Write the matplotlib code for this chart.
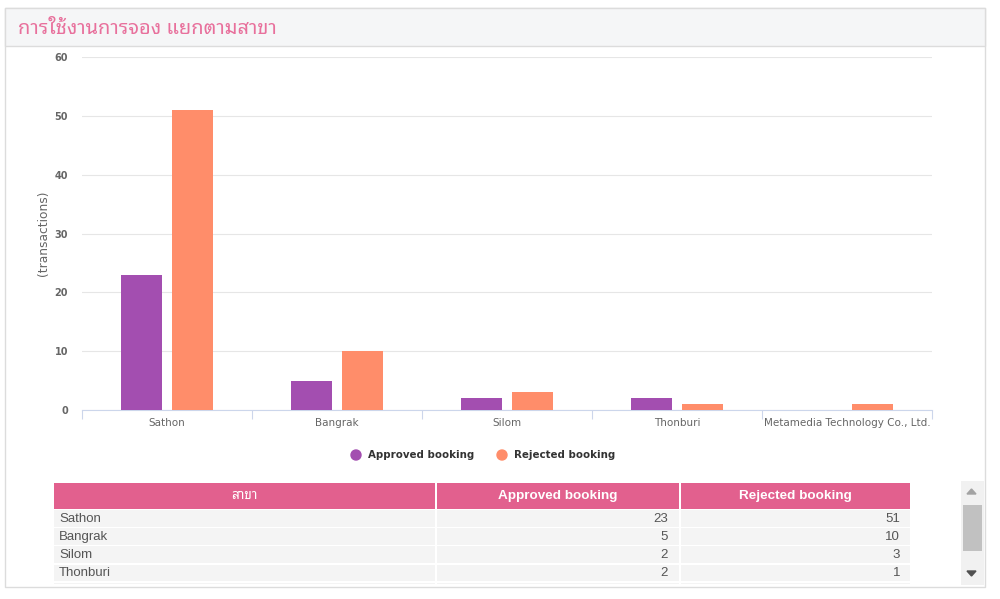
import matplotlib
matplotlib.use('Agg')
import matplotlib.pyplot as plt
from matplotlib import font_manager
from matplotlib.patches import Rectangle, Circle, Polygon

# data
branches = ['Sathon', 'Bangrak', 'Silom', 'Thonburi', 'Metamedia Technology Co., Ltd.']
approved = [23, 5, 2, 2, 0]
rejected = [51, 10, 3, 1, 1]
series_names = ['Approved booking', 'Rejected booking']
title = 'การใช้งานการจอง แยกตามสาขา'
table_head = ['สาขา', 'Approved booking', 'Rejected booking']
y_ticks = [0, 10, 20, 30, 40, 50, 60]

c_app = '#a34eb0'
c_rej = '#ff8d6a'
pink = '#e2608e'

# pick an installed Thai font (looped style looks closer to the original)
names = {f.name for f in font_manager.fontManager.ttflist}
thai = 'DejaVu Sans'
for cand in ['Noto Sans Thai Looped', 'Sarabun', 'Noto Sans Thai', 'Athiti', 'Bai Jamjuree']:
    if cand in names:
        thai = cand
        break

fig = plt.figure(figsize=(10, 5.99), dpi=100)

# overlay for the panel, legend, table
bg = fig.add_axes([0, 0, 1, 1], zorder=0)
bg.set_xlim(0, 1000)
bg.set_ylim(599, 0)
bg.axis('off')

bg.add_patch(Rectangle((5, 8), 980, 579, facecolor='white', edgecolor='#dcdcdc', lw=1))
bg.add_patch(Rectangle((5, 8), 980, 38, facecolor='#f5f6f7', edgecolor='#dcdcdc', lw=1))
bg.text(18, 29, title, family=[thai, 'DejaVu Sans'], fontsize=14.4, color='#e8709c',
        va='center', ha='left')

# bar chart
ax = fig.add_axes([0.082, (599 - 410) / 599, 0.85, 353 / 599], zorder=1)
ax.patch.set_alpha(0)
x = list(range(len(branches)))
ax.bar([i - 0.15 for i in x], approved, width=0.24, color=c_app, zorder=3)
ax.bar([i + 0.15 for i in x], rejected, width=0.24, color=c_rej, zorder=3)
ax.set_xlim(-0.5, len(branches) - 0.5)
ax.set_ylim(0, 60)
ax.set_yticks(y_ticks)
ax.grid(axis='y', color='#e6e6e6', lw=0.8, zorder=0)
for s in ['top', 'right', 'left']:
    ax.spines[s].set_visible(False)
ax.spines['bottom'].set_color('#ccd6eb')
ax.tick_params(axis='y', length=0, pad=10, labelsize=7, labelcolor='#666666')
ax.set_xticks([i - 0.5 for i in range(len(branches) + 1)])
ax.set_xticklabels([])
ax.tick_params(axis='x', which='major', length=6.5, color='#ccd6eb', direction='out')
ax.set_xticks(x, minor=True)
ax.set_xticklabels(branches, minor=True)
ax.tick_params(axis='x', which='minor', length=0, pad=6, labelsize=7.5, labelcolor='#666666')
for lb in ax.get_yticklabels():
    lb.set_fontweight('bold')
ax.set_ylabel('(transactions)', fontsize=8.8, color='#666666', labelpad=3)

# legend
for cx, col, name in [(356, c_app, series_names[0]), (502, c_rej, series_names[1])]:
    bg.add_patch(Circle((cx, 455), 5, color=col))
    bg.text(cx + 12, 455, name, fontsize=7.4, fontweight='bold', color='#333333',
            va='center', ha='left')

# table
clip = Rectangle((0, 0), 1000, 584, transform=bg.transData)
cols = [(54, 435), (437, 679), (681, 910)]
for (a, b), h in zip(cols, table_head):
    bg.add_patch(Rectangle((a, 483), b - a, 26, facecolor=pink, edgecolor='none'))
    bg.text((a + b) / 2, 496, h, family=['Liberation Sans', thai], fontsize=9.7,
            fontweight='bold', color='white', ha='center', va='center')
for r, (br, ap, rj) in enumerate(zip(branches, approved, rejected)):
    top = 510 + r * 18.2
    for (a, b) in cols:
        p = bg.add_patch(Rectangle((a, top), b - a, 16.5, facecolor='#f4f4f4', edgecolor='none'))
        p.set_clip_path(clip)
    yc = top + 8.5
    for tx, xx, ha in [(br, 59, 'left'), (str(ap), 668, 'right'), (str(rj), 900, 'right')]:
        t = bg.text(xx, yc, tx, family='Liberation Sans', fontsize=9.5, color='#555555',
                    ha=ha, va='center', clip_on=True)
        t.set_clip_path(clip)

# scrollbar
bg.add_patch(Rectangle((961, 481), 23, 104, facecolor='#f1f1f1', edgecolor='none'))
bg.add_patch(Rectangle((963, 505), 19, 46, facecolor='#c1c1c1', edgecolor='none'))
bg.add_patch(Polygon([(967, 494), (976, 494), (971.5, 489)], color='#a3a3a3'))
bg.add_patch(Polygon([(967, 571), (976, 571), (971.5, 576)], color='#505050'))

fig.savefig('out.png', dpi=100)
